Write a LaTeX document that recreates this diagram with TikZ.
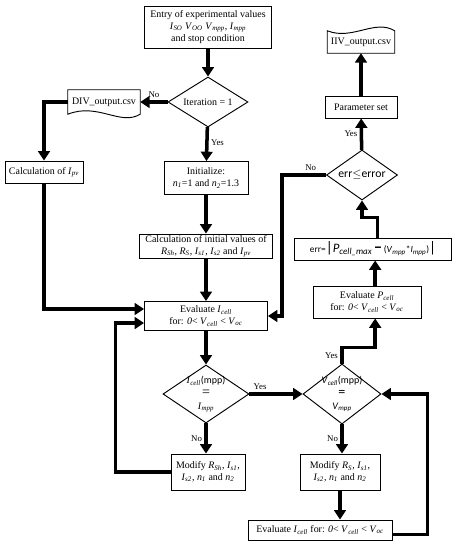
\documentclass[tikz,border=0pt]{standalone}
\usepackage{fontspec}
\setmainfont{Liberation Serif}
\setsansfont{Carlito}
\usetikzlibrary{shapes.geometric, arrows.meta}
\newcommand{\vsub}[2]{\textit{#1}\textsubscript{\itshape #2}}
\tikzset{
  box/.style={draw, rectangle, line width=0.8pt, align=center, inner sep=1pt,
    font=\fontsize{8.5}{10}\selectfont},
  decision/.style={draw, diamond, line width=0.8pt, align=center, inner sep=-3pt,
    aspect=1.5, font=\fontsize{8.5}{9}\selectfont},
  docu/.style={rectangle, align=center, inner sep=1pt, font=\fontsize{8.5}{10}\selectfont},
  flow/.style={line width=3pt, -{Triangle[length=8pt,width=10pt]}},
  lbl/.style={font=\fontsize{7.5}{9}\selectfont, inner sep=2pt},
}

\begin{document}
\begin{tikzpicture}[x=0.03cm, y=-0.03cm]
  \useasboundingbox (0,0) rectangle (461,550);

  \node[box, minimum width=3.8cm, minimum height=1.26cm] (entry) at (208,27)
    {Entry of experimental values\\ \vsub{I}{SO} \vsub{V}{OO} \vsub{V}{mpp}, \vsub{I}{mpp}\\ and stop condition};
  \node[decision, minimum width=2.4cm, minimum height=1.5cm] (iter) at (208,102) {Iteration = 1};
  \node[docu, minimum width=2.16cm, minimum height=0.72cm] (div) at (104,102) {DIV\_output.csv};
  \node[box, minimum width=2.34cm, minimum height=0.66cm] (calcipv) at (44,172) {Calculation of \vsub{I}{pv}};
  \node[box, minimum width=2.52cm, minimum height=0.99cm] (init) at (206,178)
    {Initialize:\\ \vsub{n}{1}=1 and \vsub{n}{2}=1.3};
  \node[box, minimum width=3.99cm, minimum height=0.72cm] (calcinit) at (206,246)
    {Calculation of initial values of\\ \vsub{R}{Sh}, \vsub{R}{S}, \vsub{I}{s1}, \vsub{I}{s2} and \vsub{I}{pv}};
  \node[box, minimum width=3.69cm, minimum height=0.87cm] (evalI) at (206,316)
    {Evaluate \vsub{I}{cell}\\ for: \textit{0}< \vsub{V}{cell} < \vsub{V}{oc}};
  \node[decision, minimum width=2.58cm, minimum height=1.74cm, inner sep=-5pt, font=\fontsize{8.5}{11}\selectfont] (Idia) at (206,394)
    {\vsub{I}{cell}{\sffamily(mpp)}\\ {\large=}\\ \vsub{I}{mpp}};
  \node[box, minimum width=2.22cm, minimum height=1.08cm] (modsh) at (208,472)
    {Modify \vsub{R}{Sh}, \vsub{I}{s1},\\ \vsub{I}{s2}, \vsub{n}{1} and \vsub{n}{2}};
  \node[decision, minimum width=2.34cm, minimum height=1.8cm, inner sep=-5pt, font=\sffamily\fontsize{8.5}{11}\selectfont] (Vdia) at (342,394)
    {\vsub{V}{cell}(mpp)\\ {\large=}\\ \vsub{V}{mpp}};
  \node[box, minimum width=2.4cm, minimum height=1.08cm] (modrs) at (340,472)
    {Modify \vsub{R}{S}, \vsub{I}{s1},\\ \vsub{I}{s2}, \vsub{n}{1} and \vsub{n}{2}};
  \node[box, minimum width=4.32cm, minimum height=0.6cm] (evalB) at (320,530)
    {Evaluate \vsub{I}{cell} for: \textit{0}< \vsub{V}{cell} < \vsub{V}{oc}};
  \node[box, minimum width=3.24cm, minimum height=0.96cm] (Pcell) at (367,302)
    {Evaluate \vsub{P}{cell}\\ for: \textit{0}< \vsub{V}{cell} < \vsub{V}{oc}};
  \node[box, minimum width=4.71cm, minimum height=0.66cm, font=\sffamily\fontsize{8}{10}\selectfont] (err) at (373,249)
    {err={\fontsize{13}{13}\selectfont|}{\fontsize{11}{11}\selectfont\itshape P\textsubscript{cell\_max}}\,{\Large\textbf{--}}\,(\vsub{V}{mpp}*\vsub{I}{mpp}){\fontsize{13}{13}\selectfont|}};
  \node[decision, minimum width=2.13cm, minimum height=1.5cm, font=\sffamily\fontsize{10}{11}\selectfont] (errdia) at (362,175)
    {err$\leq$error};
  \node[box, minimum width=2.16cm, minimum height=0.66cm] (param) at (361,107) {Parameter set};
  \node[docu, minimum width=2.01cm, minimum height=0.66cm] (iiv) at (361,42) {IIV\_output.csv};

  \draw[line width=0.8pt] (div.south west) -- (div.north west) -- (div.north east) -- (div.south east)
    .. controls +(-20,12) and +(30,-12) .. (div.south west) -- cycle;
  \draw[line width=0.8pt] (iiv.north west) -- (iiv.south west) -- (iiv.south east) -- (iiv.north east)
    .. controls +(-20,-12) and +(25,10) .. (iiv.north west) -- cycle;

  \draw[flow] (entry) -- (iter);
  \draw[flow] (iter) -- node[lbl, above]{No} (div);
  \draw[flow] (div.west) -| (calcipv);
  \draw[flow] (iter) -- node[lbl, right, pos=0.45]{Yes} (init);
  \draw[flow] (init) -- (calcinit);
  \draw[flow] (calcinit) -- (evalI);
  \draw[flow] (calcipv) |- ([yshift=6pt]evalI.west);
  \draw[flow] (evalI) -- (Idia);
  \draw[flow] (Idia) -- node[lbl, above, pos=0.2]{Yes} (Vdia);
  \draw[flow] (Idia.south) -- node[lbl, left]{No} (Idia.south |- modsh.north);
  \draw[flow] (modsh.west) -- ++(-55,0) |- ([yshift=-6pt]evalI.west);
  \draw[flow] (Vdia.south) -- node[lbl, left]{No} (Vdia.south |- modrs.north);
  \draw[flow] (modrs.south) -- (modrs.south |- evalB.north);
  \draw[flow] ([yshift=-4pt]evalB.east) -- ++(35,0) |- (Vdia.east);
  \draw[flow] (Vdia.north) -- node[lbl, left]{Yes} ++(0,-16) -| ([xshift=7pt]Pcell.south);
  \draw[flow] ([xshift=7pt]Pcell.north) -- ([xshift=7pt]Pcell.north |- err.south);
  \draw[flow] ([xshift=4pt]err.north) -- ++(0,-20) -| (errdia.south);
  \draw[flow] (errdia) -- node[lbl, left]{Yes} (param);
  \draw[flow] (param) -- (iiv);
  \draw[flow] (errdia.west) -- node[lbl, above, pos=0.35]{No} ++(-44,0) |- (evalI.east);
\end{tikzpicture}
\end{document}
